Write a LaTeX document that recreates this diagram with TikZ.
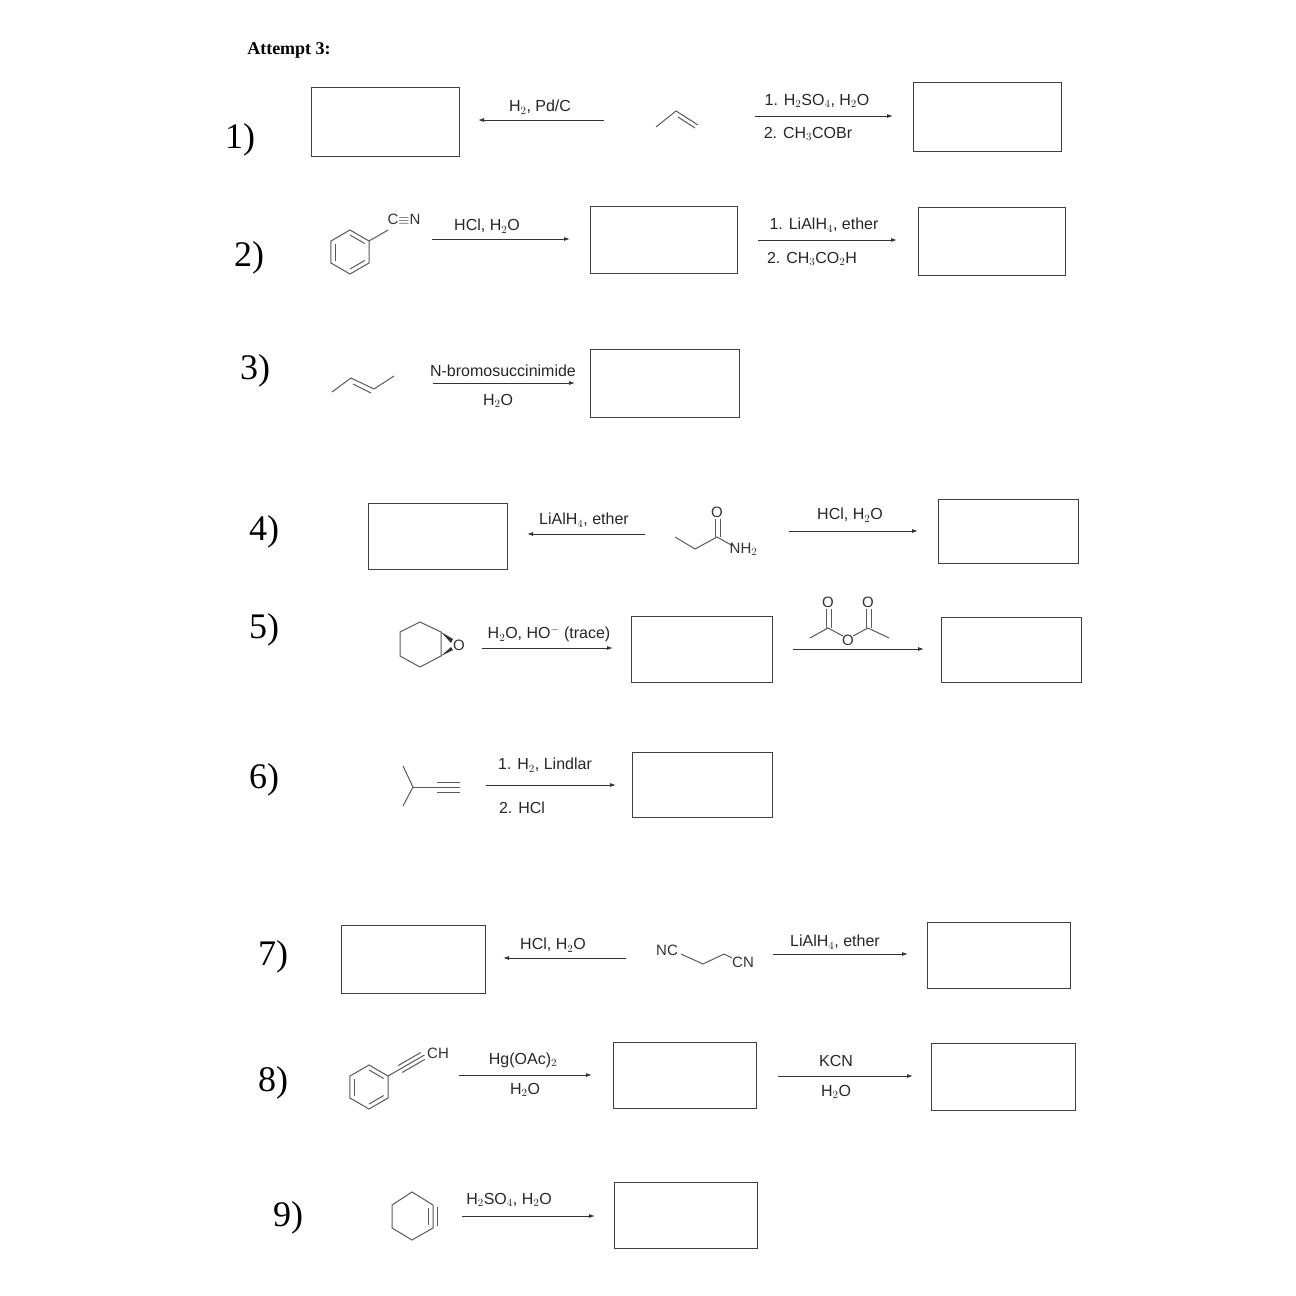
\documentclass[tikz,border=0pt]{standalone}
\usepackage{fontspec}
\setmainfont{Liberation Serif}
\setsansfont{Liberation Sans}
\usetikzlibrary{arrows.meta,calc}
\begin{document}
\begin{tikzpicture}[x=1pt,y=-1pt,
  bx/.style={draw=black!75,line width=1pt},
  rx/.style={draw=black!80,line width=0.9pt,-{Latex[length=6pt,width=4pt]}},
  lb/.style={font=\sffamily\fontsize{16}{18}\selectfont,text=black!85,inner sep=0pt},
  num/.style={font=\rmfamily\fontsize{36}{38}\selectfont,inner sep=0pt},
  mol/.style={draw=black!65,line width=1pt},
  atm/.style={font=\sffamily\fontsize{15}{17}\selectfont,text=black!80,inner sep=0.5pt}]
\useasboundingbox (0,0) rectangle (1296,1296);
\node[font=\rmfamily\bfseries\fontsize{18}{20}\selectfont,inner sep=0pt] (title) at (289,50) {Attempt 3:};
\node[num] (n1) at (240,140) {1)};
\node[num] (n2) at (249,258) {2)};
\node[num] (n3) at (255,371) {3)};
\node[num] (n4) at (264,532) {4)};
\node[num] (n5) at (264,630) {5)};
\node[num] (n6) at (264,780) {6)};
\node[num] (n7) at (273,957) {7)};
\node[num] (n8) at (273,1083) {8)};
\node[num] (n9) at (288,1218) {9)};
\draw[bx] (311,87) rectangle (459,156);
\draw[bx] (913,82) rectangle (1061,151);
\draw[bx] (590,206) rectangle (737,273);
\draw[bx] (918,207) rectangle (1065,275);
\draw[bx] (590,349) rectangle (739,417);
\draw[bx] (368,503) rectangle (507,569);
\draw[bx] (938,499) rectangle (1078,563);
\draw[bx] (631,616) rectangle (772,682);
\draw[bx] (941,617) rectangle (1081,682);
\draw[bx] (632,752) rectangle (772,817);
\draw[bx] (341,925) rectangle (485,993);
\draw[bx] (927,922) rectangle (1070,988);
\draw[bx] (613,1042) rectangle (756,1108);
\draw[bx] (931,1043) rectangle (1075,1110);
\draw[bx] (614,1182) rectangle (757,1248);
\foreach \n/\a/\b/\y in {a1/604/478/120, a2/755/893/116, a3/432/570/239, a4/758/897/240,
  a5/433/575/383, a6/645/527/534, a7/789/918/531, a8/482/613/648, a9/793/924/649,
  a10/486/616/785, a11/626/503/958, a12/773/908/954, a13/459/592/1075, a14/778/913/1076, a15/462/595/1216}{
  \coordinate (\n s) at (\a,\y); \coordinate (\n e) at (\b,\y);
  \draw[rx] (\n s) -- (\n e);}
\node[lb] (l1) at (540,107) {H$_2$, Pd/C};
\node[lb] (l2) at (817,101) {1. H$_2$SO$_4$, H$_2$O};
\node[lb] (l3) at (808,134) {2. CH$_3$COBr};
\node[lb] (l4) at (487,226) {HCl, H$_2$O};
\node[lb] (l5) at (824,225) {1. LiAlH$_4$, ether};
\node[lb] (l6) at (812,259) {2. CH$_3$CO$_2$H};
\node[lb] (l7) at (503,371) {N-bromosuccinimide};
\node[lb] (l8) at (498,401) {H$_2$O};
\node[lb] (l9) at (584,520) {LiAlH$_4$, ether};
\node[lb] (l10) at (850,515) {HCl, H$_2$O};
\node[lb] (l11) at (549,634) {H$_2$O, HO$^{-}$ (trace)};
\node[lb] (l12) at (545,765) {1. H$_2$, Lindlar};
\node[lb] (l13) at (522,808) {2. HCl};
\node[lb] (l14) at (553,945) {HCl, H$_2$O};
\node[lb] (l15) at (835,942) {LiAlH$_4$, ether};
\node[lb] (l16) at (523,1060) {Hg(OAc)$_2$};
\node[lb] (l17) at (525,1090) {H$_2$O};
\node[lb] (l18) at (836,1061) {KCN};
\node[lb] (l19) at (836,1092) {H$_2$O};
\node[lb] (l20) at (509,1200) {H$_2$SO$_4$, H$_2$O};
\draw[mol] (656,127) -- (676,111) -- (698,125);
\draw[mol] (678,117) -- (695,128);
\begin{scope}[shift={(350,252)}]
\draw[mol] (90:22) -- (30:22) -- (-30:22) -- (-90:22) -- (-150:22) -- (150:22) -- cycle;
\foreach \s/\e in {-90/-30,30/90,150/-150}{\draw[mol] (\s:17) -- (\e:17);}
\draw[mol] (-30:22) -- ++(-30:22);
\end{scope}
\node[atm] (cn) at (404,219) {C$\equiv$N};
\draw[mol] (332,392) -- (351,378) -- (374,389) -- (394,376);
\draw[mol] (353,384) -- (371,393);
\draw[mol] (675,537) -- (695,549) -- (717,537) -- (733,546);
\draw[mol] (715,537) -- (715,519); \draw[mol] (720,537) -- (720,519);
\node[atm] (o4) at (717,512) {O};
\node[atm,anchor=west] (nh2) at (729,549) {NH$_2$};
\draw[mol] (441,632) -- (420,622) -- (400,632) -- (400,656) -- (420,667) -- (441,656) -- cycle;
\node[atm] (o5) at (459,645) {O};
\fill[black!80] (441,632) -- (453,639) -- (451,643) -- cycle;
\fill[black!80] (441,656) -- (453,650) -- (451,647) -- cycle;
\draw[mol] (810,638) -- (828,628) -- (843,636);
\draw[mol] (853,636) -- (868,628) -- (889,638);
\draw[mol] (826,628) -- (826,609); \draw[mol] (831,628) -- (831,609);
\draw[mol] (866,628) -- (866,609); \draw[mol] (871,628) -- (871,609);
\node[atm] (o6) at (828,602) {O};
\node[atm] (o7) at (868,602) {O};
\node[atm] (o8) at (848,640) {O};
\draw[mol] (403,766) -- (413,787) -- (403,806);
\draw[mol] (413,787) -- (460,787);
\draw[mol] (437,782) -- (460,782); \draw[mol] (437,792) -- (460,792);
\node[atm] (nc) at (667,950) {NC};
\draw[mol] (681,954) -- (703,964) -- (724,954) -- (732,958);
\node[atm] (cn7) at (743,962) {CN};
\begin{scope}[shift={(369,1087)}]
\draw[mol] (90:22) -- (30:22) -- (-30:22) -- (-90:22) -- (-150:22) -- (150:22) -- cycle;
\foreach \s/\e in {-90/-30,30/90,150/-150}{\draw[mol] (\s:17) -- (\e:17);}
\draw[mol] (-30:22) -- ++(-30:42);
\draw[mol] ($(-30:22)+(-30:14)+(-120:4)$) -- ++(-30:26);
\draw[mol] ($(-30:22)+(-30:14)+(60:4)$) -- ++(-30:26);
\end{scope}
\node[atm] (ch) at (438,1053) {CH};
\draw[mol] (433,1205) -- (412,1192) -- (392,1205) -- (392,1228) -- (412,1240) -- (433,1228) -- cycle;
\draw[mol] (428,1208) -- (428,1225); \draw[mol] (437,1207) -- (437,1226);
\end{tikzpicture}
\end{document}
